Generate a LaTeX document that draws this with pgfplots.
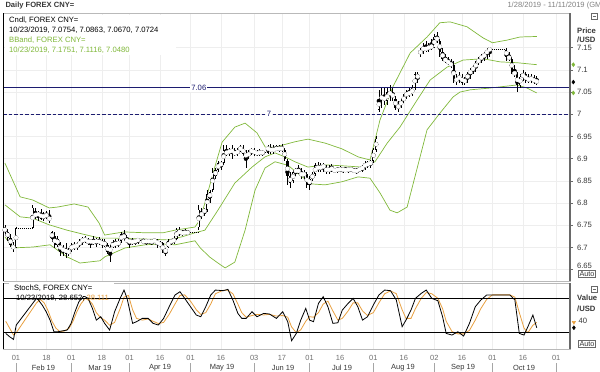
\documentclass[border=0pt]{standalone}
\usepackage{pgfplots}
\pgfplotsset{compat=1.18}
\usepackage{pgfplotstable}
\usepackage{fontspec}
\setmainfont{Liberation Sans}
\definecolor{bband}{RGB}{128,184,58}
\definecolor{navyl}{RGB}{28,28,112}
\definecolor{stochD}{RGB}{232,160,64}
\definecolor{axgray}{RGB}{105,105,105}
\definecolor{lbl}{RGB}{55,55,55}
\definecolor{dlbl}{RGB}{110,110,110}

\pgfplotstableread{
i o h l c
0 6.745 6.750 6.728 6.735
1 6.735 6.742 6.715 6.722
2 6.722 6.730 6.700 6.705
3 6.705 6.712 6.690 6.697
4 6.700 6.746 6.698 6.744
10 6.744 6.795 6.742 6.790
11 6.775 6.790 6.765 6.772
12 6.772 6.782 6.760 6.778
13 6.778 6.786 6.762 6.765
14 6.765 6.780 6.760 6.775
15 6.775 6.783 6.765 6.770
16 6.770 6.785 6.755 6.760
17 6.735 6.738 6.712 6.720
18 6.725 6.735 6.700 6.705
19 6.705 6.725 6.700 6.720
20 6.710 6.712 6.680 6.690
21 6.690 6.705 6.680 6.700
22 6.700 6.710 6.677 6.685
23 6.685 6.700 6.680 6.695
24 6.695 6.710 6.690 6.705
25 6.705 6.712 6.695 6.700
26 6.700 6.712 6.695 6.708
27 6.708 6.718 6.700 6.712
28 6.712 6.724 6.706 6.720
29 6.720 6.725 6.710 6.715
30 6.715 6.722 6.705 6.712
31 6.712 6.720 6.700 6.715
32 6.715 6.725 6.705 6.710
33 6.710 6.722 6.702 6.718
34 6.718 6.724 6.705 6.708
35 6.708 6.720 6.700 6.712
36 6.712 6.718 6.700 6.705
37 6.705 6.710 6.685 6.690
38 6.690 6.705 6.667 6.700
39 6.700 6.717 6.698 6.712
40 6.712 6.720 6.700 6.705
41 6.705 6.718 6.700 6.715
42 6.715 6.735 6.710 6.730
43 6.730 6.740 6.715 6.720
44 6.720 6.728 6.710 6.712
45 6.712 6.720 6.700 6.715
46 6.715 6.722 6.705 6.710
47 6.710 6.720 6.705 6.718
48 6.718 6.722 6.708 6.715
50 6.715 6.720 6.710 6.712
51 6.712 6.718 6.706 6.716
52 6.716 6.720 6.708 6.712
53 6.712 6.718 6.705 6.714
54 6.714 6.720 6.710 6.717
55 6.717 6.720 6.700 6.705
56 6.705 6.715 6.700 6.710
57 6.710 6.712 6.688 6.690
58 6.690 6.700 6.680 6.695
59 6.700 6.720 6.698 6.715
60 6.715 6.720 6.705 6.712
61 6.712 6.725 6.708 6.720
62 6.720 6.745 6.718 6.740
63 6.740 6.745 6.725 6.730
64 6.730 6.740 6.725 6.735
65 6.735 6.742 6.728 6.732
66 6.732 6.740 6.728 6.735
70 6.745 6.795 6.740 6.785
71 6.770 6.790 6.765 6.780
72 6.780 6.790 6.770 6.785
73 6.785 6.830 6.780 6.820
74 6.810 6.830 6.800 6.825
75 6.830 6.880 6.825 6.870
76 6.860 6.880 6.855 6.875
77 6.875 6.895 6.870 6.890
78 6.885 6.895 6.875 6.890
79 6.890 6.930 6.885 6.920
80 6.915 6.930 6.905 6.912
81 6.912 6.925 6.905 6.920
82 6.920 6.930 6.900 6.915
83 6.915 6.925 6.905 6.910
84 6.910 6.925 6.905 6.920
85 6.920 6.930 6.915 6.925
86 6.925 6.930 6.905 6.910
87 6.910 6.920 6.880 6.905
88 6.905 6.920 6.900 6.915
89 6.915 6.925 6.908 6.920
90 6.920 6.925 6.905 6.910
91 6.910 6.920 6.905 6.915
92 6.915 6.922 6.905 6.912
93 6.912 6.920 6.905 6.915
95 6.920 6.930 6.910 6.925
96 6.925 6.932 6.910 6.915
97 6.915 6.930 6.910 6.925
98 6.925 6.930 6.918 6.920
99 6.920 6.930 6.915 6.925
100 6.925 6.932 6.915 6.920
101 6.920 6.925 6.895 6.900
102 6.895 6.900 6.840 6.860
103 6.860 6.870 6.835 6.845
104 6.850 6.875 6.845 6.870
105 6.870 6.880 6.860 6.875
106 6.875 6.885 6.865 6.870
107 6.870 6.880 6.855 6.860
108 6.860 6.875 6.855 6.870
109 6.865 6.870 6.835 6.840
110 6.840 6.860 6.830 6.855
111 6.855 6.870 6.850 6.865
112 6.865 6.890 6.860 6.885
113 6.885 6.892 6.870 6.875
114 6.875 6.890 6.870 6.885
115 6.885 6.890 6.870 6.880
116 6.880 6.885 6.865 6.870
117 6.870 6.885 6.865 6.880
118 6.880 6.888 6.870 6.875
119 6.875 6.880 6.868 6.872
120 6.872 6.882 6.868 6.878
121 6.878 6.883 6.870 6.874
122 6.874 6.880 6.868 6.876
123 6.876 6.882 6.870 6.873
124 6.873 6.880 6.868 6.877
125 6.877 6.882 6.870 6.875
126 6.875 6.880 6.868 6.871
127 6.871 6.878 6.865 6.874
128 6.874 6.882 6.870 6.878
129 6.878 6.885 6.870 6.880
130 6.880 6.895 6.875 6.890
131 6.890 6.895 6.880 6.885
132 6.885 6.898 6.880 6.895
133 6.895 6.925 6.890 6.920
134 6.920 6.950 6.915 6.945
135 7.010 7.055 7.005 7.035
136 7.035 7.060 7.015 7.040
137 7.040 7.060 7.020 7.030
138 7.030 7.060 7.020 7.050
139 7.050 7.065 7.030 7.045
140 7.045 7.060 7.030 7.040
141 7.035 7.040 7.010 7.015
142 7.015 7.030 7.005 7.020
143 7.020 7.035 7.015 7.030
144 7.030 7.045 7.025 7.040
145 7.040 7.055 7.035 7.050
146 7.050 7.060 7.040 7.045
147 7.045 7.065 7.040 7.060
148 7.060 7.095 7.055 7.090
149 7.080 7.095 7.070 7.090
150 7.135 7.150 7.130 7.145
151 7.145 7.160 7.135 7.150
152 7.150 7.165 7.140 7.145
153 7.145 7.160 7.140 7.155
154 7.155 7.170 7.145 7.150
155 7.150 7.180 7.150 7.175
156 7.175 7.185 7.160 7.165
157 7.165 7.170 7.130 7.140
158 7.140 7.150 7.120 7.125
159 7.125 7.135 7.115 7.120
160 7.120 7.130 7.110 7.115
161 7.115 7.125 7.105 7.110
162 7.110 7.120 7.070 7.075
163 7.075 7.090 7.065 7.080
164 7.080 7.095 7.070 7.085
165 7.085 7.090 7.065 7.070
166 7.070 7.085 7.065 7.080
167 7.080 7.095 7.070 7.090
168 7.090 7.105 7.080 7.100
169 7.100 7.110 7.090 7.105
170 7.105 7.120 7.095 7.115
171 7.115 7.130 7.110 7.125
172 7.125 7.135 7.115 7.130
173 7.130 7.140 7.120 7.135
174 7.135 7.150 7.125 7.145
175 7.145 7.150 7.130 7.147
181 7.145 7.150 7.120 7.130
182 7.130 7.140 7.120 7.125
183 7.125 7.130 7.090 7.095
184 7.095 7.110 7.085 7.090
185 7.090 7.095 7.050 7.065
186 7.065 7.090 7.060 7.085
187 7.085 7.100 7.075 7.090
188 7.090 7.095 7.070 7.075
189 7.075 7.090 7.070 7.082
190 7.082 7.090 7.070 7.078
191 7.078 7.088 7.068 7.075
192 7.0754 7.0863 7.0670 7.0724
}\candles

\begin{document}
\begin{tikzpicture}[x=1bp,y=1bp]
\path[use as bounding box] (0bp,0bp) rectangle (600bp,372bp);

% ---------------- main price panel ----------------
\begin{axis}[
  at={(3bp,91bp)}, anchor=south west, scale only axis,
  width=567bp, height=268bp,
  xmin=-0.69, xmax=204, ymin=6.6245, ymax=7.228,
  clip=false,
  xtick={4,15,24,35,45,56,67,78,90,100,110,121,133,144,155,165,176,187,199},
  xticklabels={},
  xtick style={draw=none},
  ytick={6.7,6.75,6.8,6.85,6.9,6.95,7,7.05,7.1,7.15},
  extra y ticks={6.65},
  extra y tick style={yticklabel style={yshift=4bp}},
  ytick pos=right, yticklabel pos=right,
  tick align=outside, major tick length=3bp,
  ytick style={axgray, line width=0.5bp},
  grid=major, grid style={gray!13, line width=0.4bp},
  axis line style={gray!55, line width=0.6bp},
  /pgf/number format/assume math mode=true,
  yticklabel style={font=\fontsize{7.7}{8}\selectfont, text=lbl, xshift=0.5bp},
]
% Bollinger bands
\addplot[bband, line width=0.7bp] coordinates {(0,6.890)(5.5,6.814)(10,6.807)(16,6.789)(19,6.791)(25,6.798)(30,6.791)(34,6.755)(36,6.728)(43,6.735)(51,6.733)(57,6.733)(61.4,6.739)(68.6,6.746)(70.4,6.762)(72,6.796)(74,6.841)(76,6.886)(78.4,6.937)(83,6.971)(86.7,6.98)(91,6.958)(94,6.926)(97.5,6.926)(104.7,6.938)(109.4,6.944)(115.6,6.935)(121.7,6.922)(127.5,6.904)(131.8,6.897)(135.4,6.987)(140,7.061)(146.3,7.138)(152.4,7.174)(157,7.206)(160.7,7.208)(166.8,7.197)(172.6,7.172)(176,7.161)(181.3,7.167)(186,7.174)(192,7.1751)};
\addplot[bband, line width=0.7bp] coordinates {(0,6.796)(5.5,6.769)(10,6.766)(16,6.751)(22.4,6.739)(28.2,6.730)(34.3,6.721)(39.7,6.721)(50.6,6.719)(58.9,6.717)(63.9,6.724)(68.6,6.733)(72.2,6.739)(76.9,6.784)(83,6.845)(89.2,6.881)(93.9,6.904)(97.5,6.913)(101.1,6.904)(104.7,6.893)(109.4,6.881)(115.6,6.886)(121.7,6.884)(128.9,6.881)(133.6,6.893)(138,6.935)(142.6,6.971)(148.8,7.032)(153.5,7.077)(159.6,7.106)(165.4,7.122)(172.6,7.125)(178.7,7.118)(184.9,7.116)(192,7.1116)};
\addplot[bband, line width=0.7bp] coordinates {(0,6.724)(2.9,6.699)(10.1,6.701)(16.3,6.706)(22.4,6.679)(27.1,6.665)(34.3,6.67)(36.1,6.679)(43.4,6.699)(50.6,6.706)(56.7,6.708)(61.4,6.706)(68.6,6.715)(70.4,6.700)(73.8,6.679)(76.9,6.665)(79.5,6.654)(83,6.667)(86.7,6.739)(90.3,6.829)(93.9,6.879)(97.5,6.893)(102.2,6.885)(107.3,6.859)(110.9,6.843)(115.6,6.841)(121.7,6.848)(127.5,6.859)(131.8,6.856)(135.4,6.823)(139,6.784)(141.6,6.778)(145.2,6.791)(152.4,6.965)(157.1,7.003)(161.8,7.039)(164.3,7.05)(168,7.055)(175.1,7.059)(184.9,7.066)(188.5,7.059)(192,7.048)};
% reference lines
\addplot[navyl, line width=1bp] coordinates {(-0.69,7.06)(204,7.06)};
\addplot[navyl, line width=0.9bp, dash pattern=on 3.5bp off 2bp] coordinates {(-0.69,7)(204,7)};
\node[navyl, fill=white, inner sep=1.2bp, font=\fontsize{7.7}{8}\selectfont] at (axis cs:70,7.06) {7.06};
\node[navyl, fill=white, inner sep=1.2bp, font=\fontsize{7.7}{8}\selectfont] at (axis cs:95.3,7.0) {7};
% holiday gaps
\addplot[black, line width=0.7bp, dash pattern=on 0.8bp off 1.2bp] coordinates {(4,6.744)(10,6.744)};
\addplot[black, line width=0.7bp, dash pattern=on 0.8bp off 1.2bp] coordinates {(48,6.715)(50,6.715)};
\addplot[black, line width=0.7bp, dash pattern=on 0.8bp off 1.2bp] coordinates {(66,6.735)(70,6.735)};
\addplot[black, line width=0.7bp, dash pattern=on 0.8bp off 1.2bp] coordinates {(93,6.915)(95,6.915)};
\addplot[black, line width=0.7bp, dash pattern=on 0.8bp off 1.2bp] coordinates {(175,7.147)(181,7.147)};
% candles: wicks
\addplot[black, only marks, mark=none,
  error bars/.cd, y dir=both, y explicit, error mark=none,
  error bar style={black, line width=0.7bp}]
  table[x=i, y expr={(\thisrow{h}+\thisrow{l})/2}, y error expr={(\thisrow{h}-\thisrow{l})/2}] {\candles};
% candles: bodies
\addplot[black, only marks, mark=none,
  error bars/.cd, y dir=both, y explicit, error mark=none,
  error bar style={black, line width=2.2bp}]
  table[x=i, y expr={(\thisrow{o}+\thisrow{c})/2}, y error expr={max(abs(\thisrow{c}-\thisrow{o})/2,0.0011)}] {\candles};
% hollow up candles
\addplot[white, only marks, mark=none,
  error bars/.cd, y dir=both, y explicit, error mark=none,
  error bar style={white, line width=0.8bp}]
  table[x=i, y expr={(\thisrow{o}+\thisrow{c})/2}, y error expr={ifthenelse(\thisrow{c}>\thisrow{o}, max(abs(\thisrow{c}-\thisrow{o})/2-0.0016,0), 0)}] {\candles};
% last-value markers on the price scale
\addplot[only marks, mark=diamond*, mark size=2bp, color=bband] coordinates {(205.2,7.1116)(205.2,7.048)};
\addplot[only marks, mark=diamond*, mark size=2bp, color=black] coordinates {(205.2,7.0724)};
% borders
\draw[black, line width=0.8bp] (rel axis cs:0,0) -- (rel axis cs:0,1);
\draw[axgray, line width=2bp] (rel axis cs:1,0) -- (rel axis cs:1,1);
\end{axis}

% ---------------- stochastic panel ----------------
\begin{axis}[
  at={(3bp,23bp)}, anchor=south west, scale only axis,
  width=567bp, height=66bp,
  xmin=-0.69, xmax=204, ymin=-8.4, ymax=106.7,
  clip=false,
  xtick={4,15,24,35,45,56,67,78,90,100,110,121,133,144,155,165,176,187,199},
  xticklabels={01,18,01,18,01,16,01,16,03,17,01,16,01,16,02,16,01,16,01},
  xtick style={draw=none},
  xmajorgrids, grid style={gray!13, line width=0.4bp},
  ytick={40}, ytick pos=right, yticklabel pos=right,
  tick align=outside, major tick length=0bp,
  axis line style={gray!55, line width=0.6bp},
  /pgf/number format/assume math mode=true,
  yticklabel style={font=\fontsize{7.7}{8}\selectfont, text=lbl, xshift=5bp},
  xticklabel style={font=\fontsize{7.5}{8}\selectfont, text=dlbl, inner sep=0pt, yshift=-6bp},
]
\addplot[stochD, line width=0.8bp] coordinates {(0.3,40)(1.7,28)(3.1,16)(4.1,20)(11.4,72)(12.8,78)(14.2,72)(15.6,58)(17,40)(18.4,28)(19.8,22)(21.5,23)(23.2,28)(24.6,40)(26,57)(27.4,70)(29,80)(30.5,76)(31.6,70)(33,55)(34.6,46)(36,42)(37.8,33)(39.6,38)(41.6,62)(43,82)(44.6,85)(46.1,60)(47.5,45)(49.6,42)(51.7,44)(53.5,40)(55.4,36)(57.3,38)(59.3,52)(61.4,70)(63.2,85)(64.9,86)(67,75)(69.1,60)(70.7,52)(72.5,55)(74.3,70)(76,88)(78.8,94)(80.5,94)(82.3,88)(84.1,70)(85.5,55)(87.1,47)(89.2,50)(91,52)(93.4,51)(95.5,52)(98,49)(100.3,50)(102.1,47)(103.5,30)(105.2,20)(106.8,25)(108.6,40)(110,48)(111.4,47)(113.2,55)(114.9,70)(116.6,75)(118.4,58)(120.2,42)(121.8,45)(123.9,58)(125.7,72)(127.4,72)(129.1,58)(130.9,50)(133,55)(135,72)(137.1,88)(139.2,93)(141.3,88)(143.4,60)(144.8,45)(146.6,45)(148.2,62)(150.3,80)(152.1,90)(154.1,88)(156.3,80)(158,62)(159.3,40)(161.4,22)(163.5,18)(165.6,18)(167.7,24)(169.8,42)(171.8,62)(173.9,78)(176,86)(182.3,86)(184.1,82)(185.7,55)(187.4,28)(188.8,20)(190.6,33)(192,38.111)};
\addplot[black, line width=0.8bp] coordinates {(0.3,18.8)(1.7,13)(3.1,8.4)(4.1,33.4)(11.4,79.9)(12.1,77)(13.5,68)(14.9,56.6)(16.3,42)(17.7,21.7)(19.1,21.7)(21.1,23.5)(22.5,24.7)(23.9,36.3)(25.3,56.6)(26.7,74)(28.5,84)(30,80)(31.6,62.4)(33,42)(34.6,47.9)(36,36.3)(37.8,24.7)(39.6,56.6)(41.6,79.9)(43,94.4)(44.1,79.9)(46.1,36.3)(47.5,39.2)(49.6,45)(51.7,45)(53.5,36.3)(55.4,33.4)(57.3,45)(59.3,65.3)(61.4,85.7)(63.2,91.5)(64.9,79.9)(67,65.3)(69.1,50.8)(70.7,47.9)(72.5,65.3)(74.3,85.7)(76,94.4)(78.8,93.3)(80.5,95.6)(82.3,77)(84.1,53.7)(85.5,45)(87.1,45)(89.2,56.6)(91,47.9)(93.4,53.7)(95.5,52.6)(98,45)(100.3,56.6)(102.1,39.2)(103.5,6)(105.2,18.8)(106.8,42)(108.6,62.4)(110,42)(111.4,39.2)(113.2,71.2)(114.9,82.8)(116.6,65.3)(118.4,36.3)(120.2,37.4)(121.8,59.5)(123.9,71.2)(125.7,79.9)(127.4,65.3)(129.1,42)(130.9,47.9)(133,68.3)(135,85.7)(137.1,94.4)(139.2,93.3)(141.3,77)(143.4,30.5)(144.8,42)(146.6,59.5)(148.2,79.9)(150.3,88.6)(152.1,94.4)(154.1,79.9)(156.3,75.8)(158,47.9)(159.3,18.8)(161.4,15.9)(163.5,21.7)(165.6,14.2)(167.7,36.3)(169.8,65.3)(171.8,77)(173.9,85.7)(176,85.7)(182.3,85.7)(184.1,77)(185.7,18.8)(187.4,15.9)(188.8,30.5)(190.6,50.8)(192,28.652)};
% legend background
\fill[white] (axis cs:1.5,84) rectangle (axis cs:39.5,106.7);
\addplot[black, line width=0.9bp] coordinates {(-0.69,80)(204,80)};
\addplot[black, line width=0.9bp] coordinates {(-0.69,20)(204,20)};
\addplot[only marks, mark=triangle*, mark size=2bp, color=stochD, mark options={rotate=180}] coordinates {(205.4,38.111)};
\addplot[only marks, mark=diamond*, mark size=2bp, color=black] coordinates {(205.4,28.652)};
\draw[black, line width=0.8bp] (rel axis cs:0,0) -- (rel axis cs:0,1);
\draw[axgray, line width=2bp] (rel axis cs:1,0) -- (rel axis cs:1,1);
% month labels and separators
\node[font=\fontsize{7.5}{8}\selectfont, text=lbl] at ([yshift=-19bp]axis cs:13.9,-8.4) {Feb 19};
\node[font=\fontsize{7.5}{8}\selectfont, text=lbl] at ([yshift=-19bp]axis cs:34.3,-8.4) {Mar 19};
\node[font=\fontsize{7.5}{8}\selectfont, text=lbl] at ([yshift=-19bp]axis cs:56,-8.4) {Apr 19};
\node[font=\fontsize{7.5}{8}\selectfont, text=lbl] at ([yshift=-19bp]axis cs:78.4,-8.4) {May 19};
\node[font=\fontsize{7.5}{8}\selectfont, text=lbl] at ([yshift=-19bp]axis cs:100.4,-8.4) {Jun 19};
\node[font=\fontsize{7.5}{8}\selectfont, text=lbl] at ([yshift=-19bp]axis cs:121.7,-8.4) {Jul 19};
\node[font=\fontsize{7.5}{8}\selectfont, text=lbl] at ([yshift=-19bp]axis cs:143.7,-8.4) {Aug 19};
\node[font=\fontsize{7.5}{8}\selectfont, text=lbl] at ([yshift=-19bp]axis cs:165.4,-8.4) {Sep 19};
\node[font=\fontsize{7.5}{8}\selectfont, text=lbl] at ([yshift=-19bp]axis cs:187.4,-8.4) {Oct 19};
\draw[gray!70, line width=0.6bp] ([yshift=-14bp]axis cs:4,-8.4) -- ([yshift=-23bp]axis cs:4,-8.4);
\draw[gray!70, line width=0.6bp] ([yshift=-14bp]axis cs:24,-8.4) -- ([yshift=-23bp]axis cs:24,-8.4);
\draw[gray!70, line width=0.6bp] ([yshift=-14bp]axis cs:45,-8.4) -- ([yshift=-23bp]axis cs:45,-8.4);
\draw[gray!70, line width=0.6bp] ([yshift=-14bp]axis cs:67,-8.4) -- ([yshift=-23bp]axis cs:67,-8.4);
\draw[gray!70, line width=0.6bp] ([yshift=-14bp]axis cs:90,-8.4) -- ([yshift=-23bp]axis cs:90,-8.4);
\draw[gray!70, line width=0.6bp] ([yshift=-14bp]axis cs:110,-8.4) -- ([yshift=-23bp]axis cs:110,-8.4);
\draw[gray!70, line width=0.6bp] ([yshift=-14bp]axis cs:133,-8.4) -- ([yshift=-23bp]axis cs:133,-8.4);
\draw[gray!70, line width=0.6bp] ([yshift=-14bp]axis cs:155,-8.4) -- ([yshift=-23bp]axis cs:155,-8.4);
\draw[gray!70, line width=0.6bp] ([yshift=-14bp]axis cs:176,-8.4) -- ([yshift=-23bp]axis cs:176,-8.4);
\draw[gray!70, line width=0.6bp] ([yshift=-14bp]axis cs:199,-8.4) -- ([yshift=-23bp]axis cs:199,-8.4);
\end{axis}

% ---------------- text overlays ----------------
\node[anchor=base west, font=\bfseries\fontsize{7.6}{8}\selectfont, text=lbl] at (2bp,364bp) {Daily FOREX CNY=};
\node[anchor=base west, font=\fontsize{7.6}{8}\selectfont, text=gray] at (504bp,364bp) {1/28/2019 - 11/11/2019 (GMT)};
\fill[white] (5bp,317bp) rectangle (176bp,357bp);
\node[anchor=base west, font=\fontsize{7.7}{8}\selectfont, inner sep=0pt] at (9bp,349bp) {Cndl, FOREX CNY=};
\node[anchor=base west, font=\fontsize{7.7}{8}\selectfont, inner sep=0pt] at (9bp,339.5bp) {10/23/2019, 7.0754, 7.0863, 7.0670, 7.0724};
\node[anchor=base west, font=\fontsize{7.7}{8}\selectfont, inner sep=0pt, text=bband] at (9bp,329.5bp) {BBand, FOREX CNY=};
\node[anchor=base west, font=\fontsize{7.7}{8}\selectfont, inner sep=0pt, text=bband] at (9bp,319.5bp) {10/23/2019, 7.1751, 7.1116, 7.0480};
\node[anchor=base west, font=\fontsize{7.7}{8}\selectfont, inner sep=0pt] at (14bp,81bp) {StochS, FOREX CNY=};
\node[anchor=base west, font=\fontsize{7.7}{8}\selectfont, inner sep=0pt] at (16bp,71bp) {10/23/2019, 28.652, \textcolor{stochD}{38.111}};
\node[anchor=base west, font=\bfseries\fontsize{7.7}{8}\selectfont, inner sep=0pt, text=lbl] at (577bp,338bp) {Price};
\node[anchor=base west, font=\bfseries\fontsize{7.7}{8}\selectfont, inner sep=0pt, text=lbl] at (577bp,329bp) {/USD};
\node[anchor=base west, font=\bfseries\fontsize{7.7}{8}\selectfont, inner sep=0pt, text=lbl] at (577bp,71bp) {Value};
\node[anchor=base west, font=\bfseries\fontsize{7.7}{8}\selectfont, inner sep=0pt, text=lbl] at (577bp,60bp) {/USD};
\node[draw=axgray, line width=0.6bp, fill=white, inner sep=0.8bp, font=\fontsize{7.3}{8}\selectfont, text=lbl] at (587bp,98bp) {Auto};
\node[draw=axgray, line width=0.6bp, fill=white, inner sep=0.8bp, font=\fontsize{7.3}{8}\selectfont, text=lbl] at (587bp,28bp) {Auto};
\draw[axgray, line width=0.5bp] (591bp,353bp) rectangle (597bp,359bp);
\draw[axgray, line width=0.5bp] (592.5bp,356bp) -- (595.5bp,356bp);
\draw[axgray, line width=0.5bp] (591bp,80bp) rectangle (597bp,86bp);
\draw[axgray, line width=0.5bp] (592.5bp,83bp) -- (595.5bp,83bp);
\end{tikzpicture}
\end{document}
